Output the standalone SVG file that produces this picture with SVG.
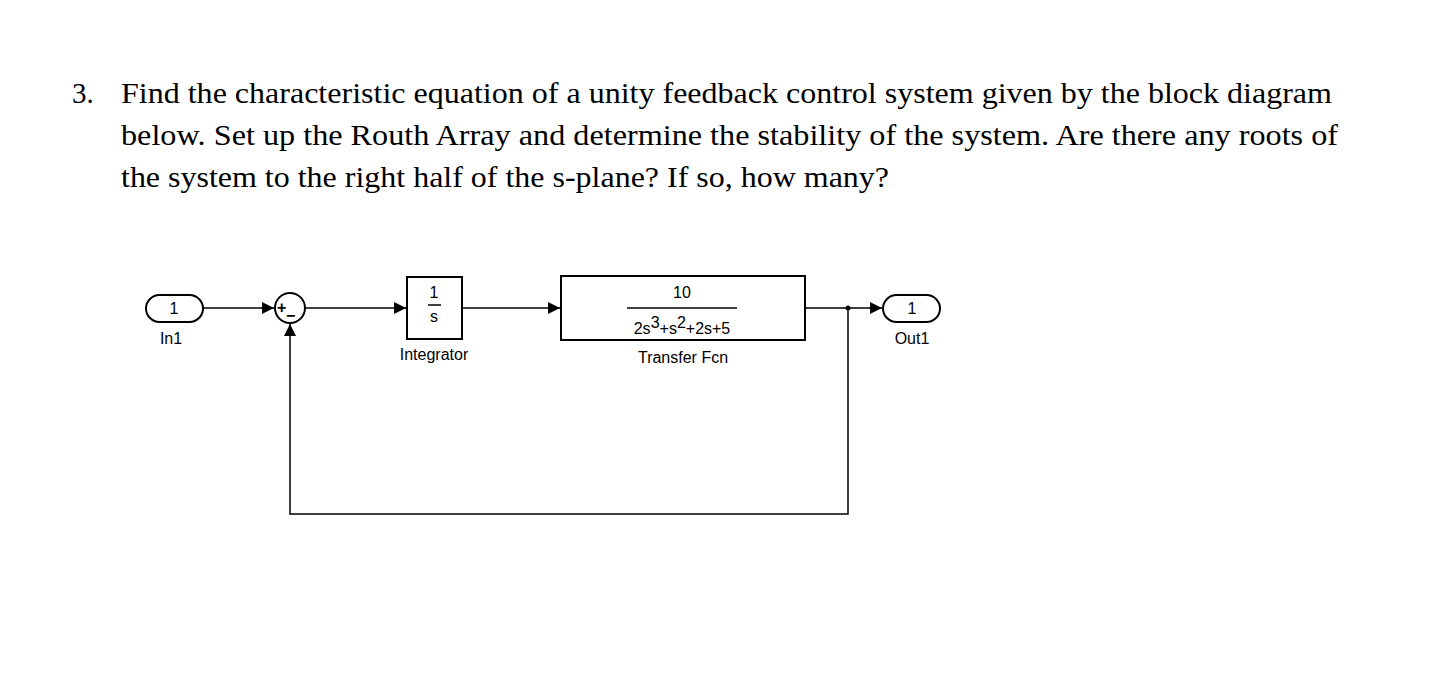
<svg xmlns="http://www.w3.org/2000/svg" width="1429" height="682" viewBox="0 0 1429 682">
<style>
.q{font-family:"Liberation Serif",serif;font-size:29px;fill:#000}
.s{font-family:"Liberation Sans",sans-serif;font-size:16px;fill:#000}
.b{fill:#fff;stroke:#000;stroke-width:2}
.w{fill:none;stroke:#000;stroke-width:1.5}
</style>
<defs><marker id="a" viewBox="0 0 12 12" refX="12" refY="6" markerWidth="12" markerHeight="12" markerUnits="userSpaceOnUse" orient="auto"><path d="M0,0L12,6L0,12z" fill="#000"/></marker></defs>
<rect width="1429" height="682" fill="#fff"/>
<g id="question">
<text class="q" x="72" y="103">3.</text>
<text class="q" x="121" y="103" textLength="1211" lengthAdjust="spacingAndGlyphs">Find the characteristic equation of a unity feedback control system given by the block diagram</text>
<text class="q" x="121" y="145" textLength="1217" lengthAdjust="spacingAndGlyphs">below. Set up the Routh Array and determine the stability of the system. Are there any roots of</text>
<text class="q" x="121" y="187" textLength="768" lengthAdjust="spacingAndGlyphs">the system to the right half of the s-plane? If so, how many?</text>
</g>
<g id="connectors">
<line class="w" x1="203" y1="308" x2="274" y2="308" marker-end="url(#a)"/>
<line class="w" x1="305" y1="308" x2="406" y2="308" marker-end="url(#a)"/>
<line class="w" x1="462" y1="308" x2="560" y2="308" marker-end="url(#a)"/>
<line class="w" x1="805" y1="308" x2="882" y2="308" marker-end="url(#a)"/>
<polyline class="w" points="848,308 848,514 290,514 290,324" marker-end="url(#a)"/>
<circle cx="848" cy="308" r="2.5" fill="#000"/>
</g>
<g id="in1">
<rect class="b" x="146" y="295" width="57" height="27" rx="13.5"/>
<text class="s" x="174" y="314" text-anchor="middle">1</text>
<text class="s" x="171" y="344" text-anchor="middle">In1</text>
</g>
<g id="sum">
<circle class="b" cx="290" cy="308" r="15"/>
<text class="s" x="277" y="313" font-weight="bold" font-size="15">+</text>
<text class="s" x="286" y="321" font-weight="bold" font-size="15">−</text>
</g>
<g id="integrator">
<rect class="b" x="407" y="277" width="55" height="62"/>
<text class="s" x="434" y="298" text-anchor="middle">1</text>
<line x1="428" y1="305" x2="441" y2="305" stroke="#000" stroke-width="1.5"/>
<text class="s" x="434" y="322" text-anchor="middle">s</text>
<text class="s" x="434" y="360" text-anchor="middle">Integrator</text>
</g>
<g id="tf">
<rect class="b" x="561" y="276" width="244" height="64"/>
<text class="s" x="682" y="298" text-anchor="middle">10</text>
<line x1="627" y1="308" x2="737" y2="308" stroke="#000" stroke-width="1.5"/>
<text class="s" x="682" y="334" text-anchor="middle">2s<tspan dy="-6">3</tspan><tspan dy="6">+s</tspan><tspan dy="-6">2</tspan><tspan dy="6">+2s+5</tspan></text>
<text class="s" x="683" y="363" text-anchor="middle">Transfer Fcn</text>
</g>
<g id="out1">
<rect class="b" x="883" y="295" width="57" height="27" rx="13.5"/>
<text class="s" x="912" y="314" text-anchor="middle">1</text>
<text class="s" x="912" y="344" text-anchor="middle">Out1</text>
</g>
</svg>
